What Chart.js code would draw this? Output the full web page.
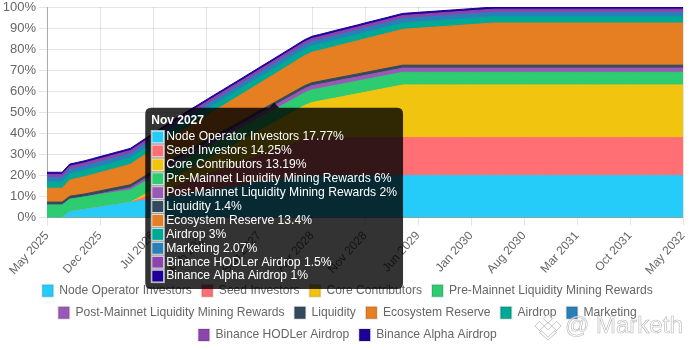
<!DOCTYPE html>
<html>
<head>
<meta charset="utf-8">
<title>Token unlock schedule</title>
<script src="https://cdn.jsdelivr.net/npm/chart.js@4"></script>
<style>
    html, body { margin: 0; padding: 0; background: #fff; }
    #wrap { position: relative; width: 692px; height: 350px; overflow: hidden; }
    #mark { position: absolute; left: 565px; top: 311px; font: 24px "Liberation Sans", sans-serif; color: rgba(255,255,255,.75);
        -webkit-text-stroke: .6px rgba(120,120,120,.55); white-space: nowrap; }
    #logo { position: absolute; left: 533px; top: 311px; }
</style>
</head>
<body>
<div id="wrap">
    <canvas id="unlockChart" width="692" height="350"></canvas>
    <svg id="logo" width="30" height="30" viewBox="0 0 32 32" fill="rgba(255,255,255,.7)" stroke="rgba(120,120,120,.45)">
        <path d="M16 3l5 5-5 5-5-5zM7 11l5 5-5 5-5-5zM25 11l5 5-5 5-5-5zM16 12l4 4-4 4-4-4zM9 21l7 7 7-7 2 2-9 8-9-8z"/>
    </svg>
    <div id="mark">@ Marketh</div>
</div>
<script>
const months = [
    'May 2025', 'Jun 2025', 'Jul 2025', 'Aug 2025', 'Sep 2025', 'Oct 2025', 'Nov 2025', 'Dec 2025',
    'Jan 2026', 'Feb 2026', 'Mar 2026', 'Apr 2026', 'May 2026', 'Jun 2026', 'Jul 2026', 'Aug 2026', 'Sep 2026', 'Oct 2026', 'Nov 2026', 'Dec 2026',
    'Jan 2027', 'Feb 2027', 'Mar 2027', 'Apr 2027', 'May 2027', 'Jun 2027', 'Jul 2027', 'Aug 2027', 'Sep 2027', 'Oct 2027', 'Nov 2027', 'Dec 2027',
    'Jan 2028', 'Feb 2028', 'Mar 2028', 'Apr 2028', 'May 2028', 'Jun 2028', 'Jul 2028', 'Aug 2028', 'Sep 2028', 'Oct 2028', 'Nov 2028', 'Dec 2028',
    'Jan 2029', 'Feb 2029', 'Mar 2029', 'Apr 2029', 'May 2029', 'Jun 2029', 'Jul 2029', 'Aug 2029', 'Sep 2029', 'Oct 2029', 'Nov 2029', 'Dec 2029',
    'Jan 2030', 'Feb 2030', 'Mar 2030', 'Apr 2030', 'May 2030', 'Jun 2030', 'Jul 2030', 'Aug 2030', 'Sep 2030', 'Oct 2030', 'Nov 2030', 'Dec 2030',
    'Jan 2031', 'Feb 2031', 'Mar 2031', 'Apr 2031', 'May 2031', 'Jun 2031', 'Jul 2031', 'Aug 2031', 'Sep 2031', 'Oct 2031', 'Nov 2031', 'Dec 2031',
    'Jan 2032', 'Feb 2032', 'Mar 2032', 'Apr 2032', 'May 2032'
];
const tickLabels = ['May 2025', 'Dec 2025', 'Jul 2026', 'Feb 2027', 'Sep 2027', 'Apr 2028', 'Nov 2028', 'Jun 2029', 'Jan 2030', 'Aug 2030', 'Mar 2031', 'Oct 2031', 'May 2032'];
const hoveredMonth = 'Nov 2027';

const nodeOperatorInvestors = [
    0, 0, 0, 2.78, 3.33, 3.89, 4.44, 5, 5.56, 6.11, 6.67, 7.22, 7.78, 8.33, 8.89, 9.44, 10, 10.56, 11.11, 11.67,
    12.22, 12.78, 13.33, 13.89, 14.44, 15, 15.56, 16.11, 16.67, 17.22, 17.77, 18.33, 18.89, 19.44, 20,
    20, 20, 20, 20, 20, 20, 20, 20, 20, 20, 20, 20, 20, 20, 20, 20, 20, 20, 20, 20, 20, 20, 20, 20, 20,
    20, 20, 20, 20, 20, 20, 20, 20, 20, 20, 20, 20, 20, 20, 20, 20, 20, 20, 20, 20, 20, 20, 20, 20, 20
];
const seedInvestors = [
    0, 0, 0, 0, 0, 0, 0, 0, 0, 0, 0, 0, 0.75, 1.5, 2.25, 3, 3.75, 4.5, 5.25, 6, 6.75, 7.5, 8.25, 9, 9.75,
    10.5, 11.25, 12, 12.75, 13.5, 14.25, 15, 15.75, 16.5, 17.25, 18,
    18, 18, 18, 18, 18, 18, 18, 18, 18, 18, 18, 18, 18, 18, 18, 18, 18, 18, 18, 18, 18, 18, 18, 18,
    18, 18, 18, 18, 18, 18, 18, 18, 18, 18, 18, 18, 18, 18, 18, 18, 18, 18, 18, 18, 18, 18, 18, 18, 18
];
const coreContributors = [
    0, 0, 0, 0, 0, 0, 0, 0, 0, 0, 0, 0, 0.69, 1.39, 2.08, 2.78, 3.47, 4.17, 4.86, 5.56, 6.25, 6.94, 7.64, 8.33,
    9.03, 9.72, 10.42, 11.11, 11.81, 12.5, 13.19, 13.89, 14.58, 15.28, 15.97, 16.67, 17.36, 18.06, 18.75, 19.44,
    20.14, 20.83, 21.53, 22.22, 22.92, 23.61, 24.31, 25,
    25, 25, 25, 25, 25, 25, 25, 25, 25, 25, 25, 25, 25, 25, 25, 25, 25, 25, 25,
    25, 25, 25, 25, 25, 25, 25, 25, 25, 25, 25, 25, 25, 25, 25, 25, 25, 25
];
const preMainnetRewards = [
    6, 6, 6, 6, 6, 6, 6, 6, 6, 6, 6, 6, 6, 6, 6, 6, 6, 6, 6, 6, 6, 6, 6, 6, 6, 6, 6, 6, 6, 6, 6, 6, 6, 6, 6, 6, 6, 6, 6, 6, 6, 6,
    6, 6, 6, 6, 6, 6, 6, 6, 6, 6, 6, 6, 6, 6, 6, 6, 6, 6, 6, 6, 6, 6, 6, 6, 6, 6, 6, 6, 6, 6, 6, 6, 6, 6, 6, 6, 6, 6, 6, 6, 6, 6, 6
];
const postMainnetRewards = [
    0, 0, 0, 0, 0, 0, 0.17, 0.33, 0.5, 0.67, 0.83, 1, 1.17, 1.33, 1.5, 1.67, 1.83, 2,
    2, 2, 2, 2, 2, 2, 2, 2, 2, 2, 2, 2, 2, 2, 2, 2, 2, 2, 2, 2, 2, 2, 2, 2, 2, 2, 2, 2, 2, 2, 2, 2, 2,
    2, 2, 2, 2, 2, 2, 2, 2, 2, 2, 2, 2, 2, 2, 2, 2, 2, 2, 2, 2, 2, 2, 2, 2, 2, 2, 2, 2, 2, 2, 2, 2, 2, 2
];
const liquidity = [
    1.4, 1.4, 1.4, 1.4, 1.4, 1.4, 1.4, 1.4, 1.4, 1.4, 1.4, 1.4, 1.4, 1.4, 1.4, 1.4, 1.4, 1.4, 1.4, 1.4, 1.4,
    1.4, 1.4, 1.4, 1.4, 1.4, 1.4, 1.4, 1.4, 1.4, 1.4, 1.4, 1.4, 1.4, 1.4, 1.4, 1.4, 1.4, 1.4, 1.4, 1.4, 1.4,
    1.4, 1.4, 1.4, 1.4, 1.4, 1.4, 1.4, 1.4, 1.4, 1.4, 1.4, 1.4, 1.4, 1.4, 1.4, 1.4, 1.4, 1.4, 1.4, 1.4, 1.4,
    1.4, 1.4, 1.4, 1.4, 1.4, 1.4, 1.4, 1.4, 1.4, 1.4, 1.4, 1.4, 1.4, 1.4, 1.4, 1.4, 1.4, 1.4, 1.4, 1.4, 1.4, 1.4
];
const ecosystemReserve = [
    6.6, 6.6, 6.6, 7.7, 7.95, 8.2, 8.45, 8.7, 8.95, 9.2, 9.45, 9.7, 9.9, 10.1, 10.3, 10.5, 10.7, 10.9, 11.1, 11.3,
    11.5, 11.7, 11.9, 12.05, 12.25, 12.4, 12.6, 12.8, 13, 13.2, 13.4, 13.6, 13.8, 14.05, 14.25, 14.45, 14.65, 14.85, 15.1, 15.3,
    15.5, 15.7, 15.95, 16.15, 16.35, 16.55, 16.8, 17, 17.25, 17.5, 17.75, 18, 18.25, 18.5, 18.75, 19, 19.25, 19.5, 19.75, 20,
    20, 20, 20, 20, 20, 20, 20, 20, 20, 20, 20, 20, 20, 20, 20, 20, 20, 20, 20, 20, 20, 20, 20, 20, 20
];
const airdrop = [
    3, 3, 3, 3, 3, 3, 3, 3, 3, 3, 3, 3, 3, 3, 3, 3, 3, 3, 3, 3, 3, 3, 3, 3, 3, 3, 3, 3, 3, 3, 3, 3, 3, 3, 3, 3, 3, 3, 3, 3, 3, 3,
    3, 3, 3, 3, 3, 3, 3, 3, 3, 3, 3, 3, 3, 3, 3, 3, 3, 3, 3, 3, 3, 3, 3, 3, 3, 3, 3, 3, 3, 3, 3, 3, 3, 3, 3, 3, 3, 3, 3, 3, 3, 3, 3
];
const marketing = [
    2.07, 2.07, 2.07, 2.07, 2.07, 2.07, 2.07, 2.07, 2.07, 2.07, 2.07, 2.07, 2.07, 2.07, 2.07, 2.07, 2.07, 2.07, 2.07, 2.07, 2.07,
    2.07, 2.07, 2.07, 2.07, 2.07, 2.07, 2.07, 2.07, 2.07, 2.07, 2.07, 2.07, 2.07, 2.07, 2.07, 2.07, 2.07, 2.07, 2.07, 2.07, 2.07,
    2.07, 2.07, 2.07, 2.07, 2.07, 2.07, 2.07, 2.07, 2.07, 2.07, 2.07, 2.07, 2.07, 2.07, 2.07, 2.07, 2.07, 2.07, 2.07, 2.07, 2.07,
    2.07, 2.07, 2.07, 2.07, 2.07, 2.07, 2.07, 2.07, 2.07, 2.07, 2.07, 2.07, 2.07, 2.07, 2.07, 2.07, 2.07, 2.07, 2.07, 2.07, 2.07, 2.07
];
const binanceHodler = [
    1.5, 1.5, 1.5, 1.5, 1.5, 1.5, 1.5, 1.5, 1.5, 1.5, 1.5, 1.5, 1.5, 1.5, 1.5, 1.5, 1.5, 1.5, 1.5, 1.5, 1.5,
    1.5, 1.5, 1.5, 1.5, 1.5, 1.5, 1.5, 1.5, 1.5, 1.5, 1.5, 1.5, 1.5, 1.5, 1.5, 1.5, 1.5, 1.5, 1.5, 1.5, 1.5,
    1.5, 1.5, 1.5, 1.5, 1.5, 1.5, 1.5, 1.5, 1.5, 1.5, 1.5, 1.5, 1.5, 1.5, 1.5, 1.5, 1.5, 1.5, 1.5, 1.5, 1.5,
    1.5, 1.5, 1.5, 1.5, 1.5, 1.5, 1.5, 1.5, 1.5, 1.5, 1.5, 1.5, 1.5, 1.5, 1.5, 1.5, 1.5, 1.5, 1.5, 1.5, 1.5, 1.5
];
const binanceAlpha = [
    1, 1, 1, 1, 1, 1, 1, 1, 1, 1, 1, 1, 1, 1, 1, 1, 1, 1, 1, 1, 1, 1, 1, 1, 1, 1, 1, 1, 1, 1, 1, 1, 1, 1, 1, 1, 1, 1, 1, 1, 1, 1,
    1, 1, 1, 1, 1, 1, 1, 1, 1, 1, 1, 1, 1, 1, 1, 1, 1, 1, 1, 1, 1, 1, 1, 1, 1, 1, 1, 1, 1, 1, 1, 1, 1, 1, 1, 1, 1, 1, 1, 1, 1, 1, 1
];

const seriesNames = ['Node Operator Investors', 'Seed Investors', 'Core Contributors', 'Pre-Mainnet Liquidity Mining Rewards',
    'Post-Mainnet Liquidity Mining Rewards', 'Liquidity', 'Ecosystem Reserve', 'Airdrop', 'Marketing', 'Binance HODLer Airdrop', 'Binance Alpha Airdrop'];
const seriesValues = [nodeOperatorInvestors, seedInvestors, coreContributors, preMainnetRewards,
    postMainnetRewards, liquidity, ecosystemReserve, airdrop, marketing, binanceHodler, binanceAlpha];
const seriesColors = ['#25cbf9', '#ff6f74', '#f1c40f', '#2ecc71', '#9b59b6', '#34495e', '#e67e22', '#00a896', '#2980b9', '#8e44ad', '#1e0099'];

// caret sits on the Liquidity stack top, same as the nearest point under the mouse
Chart.Tooltip.positioners.onLiquidity = function (items) {
    if (!items.length) return false;
    return { x: items[0].element.x, y: items[5].element.y };
};

// the legend rows sit a bit right of the canvas centre
const nudgeLegend = {
    id: 'nudgeLegend',
    afterLayout: c => { c.legend.left += 8; }
};

const chart = new Chart(document.getElementById('unlockChart').getContext('2d'), {
    type: 'line',
    plugins: [nudgeLegend],
    data: {
        labels: months,
        datasets: seriesNames.map((name, i) => ({
            label: name,
            data: seriesValues[i],
            backgroundColor: seriesColors[i],
            borderColor: seriesColors[i],
            borderWidth: 1,
            pointRadius: 0,
            tension: 0,
            fill: true
        }))
    },
    options: {
        responsive: false,
        animation: false,
        events: [],
        layout: { padding: { left: 4, right: 9, top: 7, bottom: -1 } },
        scales: {
            x: {
                stacked: true,
                offset: false,
                afterBuildTicks: scale => {
                    scale.ticks = scale.ticks.filter(t => tickLabels.includes(months[t.value]));
                },
                afterFit: scale => { scale.height = 57; scale.paddingLeft = 0; scale.paddingRight = 0; },
                ticks: { autoSkip: false, maxRotation: 48, minRotation: 48, color: '#666', font: { family: '"Liberation Sans"', size: 12 } }
            },
            y: {
                stacked: true,
                min: 0,
                max: 100,
                border: { color: '#aaa' },
                afterFit: scale => { scale.width = 43; scale.paddingTop = 0; scale.paddingBottom = 0; },
                ticks: { stepSize: 10, color: '#666', font: { family: '"Liberation Sans"', size: 13 }, callback: v => v + '%' }
            }
        },
        plugins: {
            legend: {
                position: 'bottom',
                labels: {
                    boxWidth: 11,
                    boxHeight: 12,
                    padding: 10,
                    color: '#666',
                    font: { family: '"Liberation Sans"', size: 12.1 },
                    generateLabels: c => {
                        const items = Chart.defaults.plugins.legend.labels.generateLabels(c);
                        items.forEach(item => { item.strokeStyle = 'rgba(0,0,0,.1)'; item.lineWidth = 2; });
                        return items;
                    }
                }
            },
            tooltip: {
                position: 'onLiquidity',
                xAlign: 'center',
                yAlign: 'top',
                backgroundColor: 'rgba(0,0,0,.8)',
                cornerRadius: 6,
                padding: 6,
                caretPadding: 0,
                titleFont: { family: '"Liberation Sans"', size: 12, weight: 'bold' },
                titleMarginBottom: 2,
                bodyFont: { family: '"Liberation Sans"', size: 12.15, lineHeight: 1.145 },
                bodySpacing: 0,
                boxWidth: 13,
                boxHeight: 13,
                callbacks: {
                    label: ctx => ctx.dataset.label + ' ' + ctx.parsed.y + '%',
                    labelColor: ctx => ({ borderColor: '#bbb', backgroundColor: ctx.dataset.backgroundColor, borderWidth: 1 })
                }
            }
        }
    }
});

// hold the tooltip open on the same month as the reference
const hovered = months.indexOf(hoveredMonth);
chart.tooltip.setActiveElements(seriesNames.map((n, i) => ({ datasetIndex: i, index: hovered })), { x: 0, y: 0 });
chart.update();
</script>
</body>
</html>
